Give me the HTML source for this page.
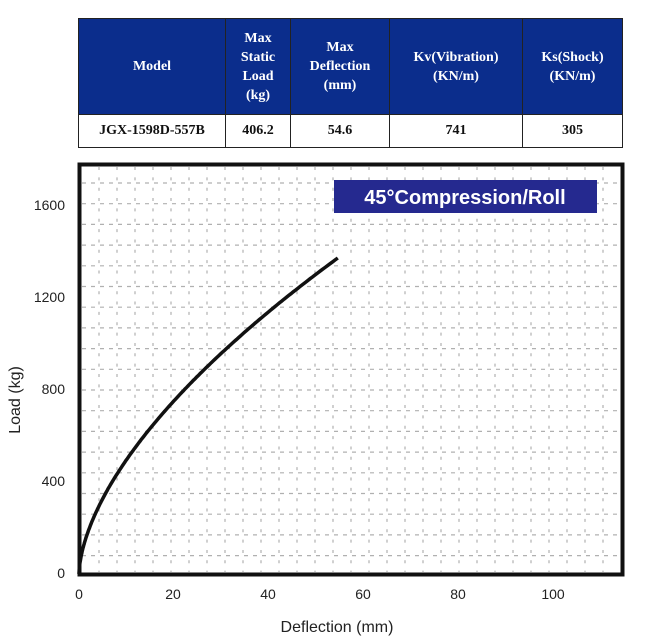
<!DOCTYPE html>
<html><head><meta charset="utf-8"><style>
body{margin:0;background:#fff;width:650px;height:641px;overflow:hidden;position:relative;font-family:"Liberation Serif",serif}
table{position:absolute;left:78px;top:18px;width:545px;border-collapse:collapse;font-weight:bold;font-size:14px;text-align:center}
td{border:1.5px solid #222;padding:0}
.h td{background:#0b2d8c;color:#fff;height:95px;line-height:19px}
.r td{height:32px;color:#111}
</style></head><body>
<table>
<tr class="h"><td style="width:146px">Model</td><td style="width:64px">Max<br>Static<br>Load<br>(kg)</td><td style="width:98px">Max<br>Deflection<br>(mm)</td><td style="width:132px">Kv(Vibration)<br>(KN/m)</td><td>Ks(Shock)<br>(KN/m)</td></tr>
<tr class="r"><td>JGX-1598D-557B</td><td>406.2</td><td>54.6</td><td>741</td><td>305</td></tr>
</table>
<svg width="650" height="641" style="position:absolute;left:0;top:0" font-family="Liberation Sans, sans-serif">
<g id="grid" stroke="#b0b0b0" stroke-width="1.2"></g>
<rect x="334" y="180" width="263" height="33" fill="#25298f"/>
<text x="465" y="204" fill="#fff" font-size="20" font-weight="bold" text-anchor="middle">45°Compression/Roll</text>
<rect x="79.5" y="164.5" width="543" height="410" fill="none" stroke="#111" stroke-width="4"/>
<path id="c" fill="none" stroke="#111" stroke-width="3.5"/>
<g font-size="14" fill="#222" text-anchor="end">
<text x="65" y="578">0</text><text x="65" y="486">400</text><text x="65" y="394">800</text><text x="65" y="302">1200</text><text x="65" y="210">1600</text>
</g>
<g font-size="14" fill="#222" text-anchor="middle">
<text x="79" y="599">0</text><text x="173" y="599">20</text><text x="268" y="599">40</text><text x="363" y="599">60</text><text x="458" y="599">80</text><text x="553" y="599">100</text>
<text x="337" y="632" font-size="16">Deflection (mm)</text>
<text transform="translate(20,400) rotate(-90)" font-size="16">Load (kg)</text>
</g>
</svg>
<script>
var g=document.getElementById('grid'),s='';
for(var y=183;y<572;y+=20.7){s+='<line x1="82" x2="620" y1="'+y+'" y2="'+y+'" stroke-dasharray="4,5"/>';}
for(var x=99;x<620;x+=18){s+='<line x1="'+x+'" x2="'+x+'" y1="167" y2="572" stroke-dasharray="3,7.35"/>';}
g.innerHTML=s;
var d='M79,574';for(var i=1;i<=200;i++){var m=54.6*Math.pow(i/200,2);d+=' L'+(79+4.74*m).toFixed(1)+','+(574-316*Math.pow(m/54.6,0.6)).toFixed(1);}
document.getElementById('c').setAttribute('d',d);
</script>
</body></html>
